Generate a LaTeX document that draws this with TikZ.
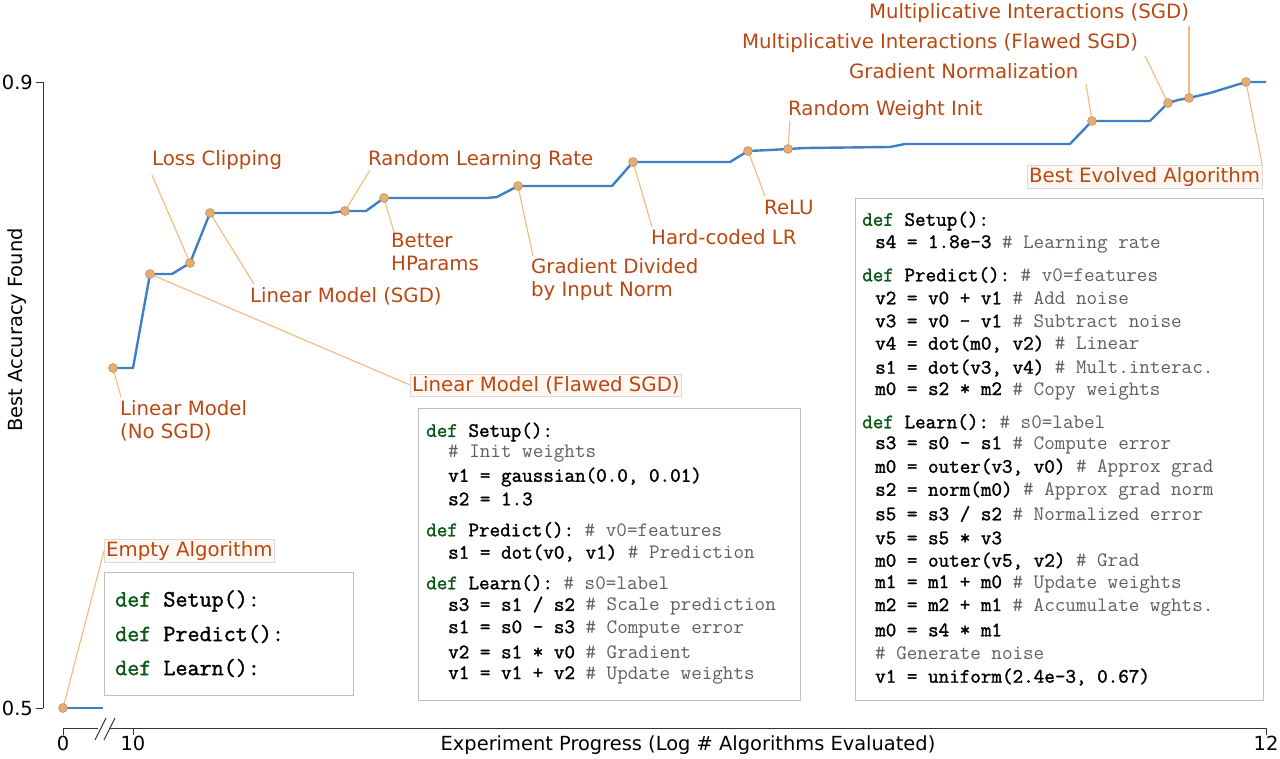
\documentclass[tikz,border=0pt]{standalone}
\usepackage{fontspec}
\setsansfont{DejaVu Sans}
\setmonofont[AutoFakeBold=1.5]{Latin Modern Mono}
\definecolor{lab}{RGB}{185,72,18}
\definecolor{lead}{RGB}{245,185,120}
\definecolor{mk}{RGB}{232,172,112}
\definecolor{mkb}{RGB}{170,140,110}
\definecolor{curve}{RGB}{62,128,196}
\definecolor{kw}{RGB}{10,90,20}
\definecolor{cmt}{RGB}{95,95,95}
\definecolor{lbox}{RGB}{255,247,242}
\newcommand{\kd}{\textcolor{kw}{def}}
\newcommand{\cm}[1]{\textcolor{cmt}{\mdseries #1}}
\tikzset{
 lbl/.style={text=lab,font=\sffamily\fontsize{19.8}{23}\selectfont,inner sep=2pt,align=left},
 blbl/.style={lbl,draw=black!15,fill=lbox},
 ldr/.style={draw=lead,line width=1.1pt},
 dotmk/.style={circle,fill=mk,draw=mkb,line width=0.5pt,minimum size=9pt,inner sep=0pt},
 cbox/.style={draw=black!25,line width=1pt,fill=white},
 cl/.style={anchor=west,inner sep=0pt,font=\ttfamily\bfseries\fontsize{20.6}{22}\selectfont},
 cl1/.style={anchor=west,inner sep=0pt,font=\ttfamily\bfseries\fontsize{23.5}{25}\selectfont},
 axl/.style={font=\sffamily\fontsize{19.5}{22}\selectfont,inner sep=1pt}
}
\begin{document}
\begin{tikzpicture}[x=1bp,y=-1bp]
\useasboundingbox (0,0) rectangle (1280,759);
% axes
\draw[black!80,line width=1pt] (43,82) -- (43,708);
\draw[black!80,line width=1pt] (43,82) -- (36,82);
\draw[black!80,line width=1pt] (43,708) -- (36,708);
\node[axl,anchor=east] (t09) at (34,82) {0.9};
\node[axl,anchor=east] (t05) at (34,708) {0.5};
\node[axl,rotate=90] (ylab) at (17,330) {Best Accuracy Found};
\draw[black!80,line width=1pt] (63,728) -- (98,728) (110,728) -- (1266,728);
\draw[black!80,line width=1pt] (63,728) -- (63,735) (133,728) -- (133,735) (1266,728) -- (1266,735);
\draw[black!80,line width=1pt] (95,740) -- (106,718) (104,740) -- (115,718);
\node[axl,anchor=north] (x0) at (63,735) {0};
\node[axl,anchor=north] (x10) at (133,735) {10};
\node[axl,anchor=north] (x12) at (1266,735) {12};
\node[axl,anchor=north] (xlab) at (688,735) {Experiment Progress (Log \# Algorithms Evaluated)};
% curve
\draw[curve,line width=2.4pt,line join=round] (63,708) -- (103,708);
\draw[curve,line width=2.4pt,line join=round] (113,368) -- (133,368) -- (150,274) -- (172,274) -- (190,263) -- (210,213) -- (330,213) -- (345,211) -- (366,211) -- (384,198) -- (487,198) -- (497,197) -- (518,186) -- (612,186) -- (633,162) -- (730,162) -- (748,151) -- (770,150) -- (788,149) -- (805,148) -- (890,147) -- (905,144) -- (1070,144) -- (1092,121) -- (1150,121) -- (1168,103) -- (1178,100) -- (1189,98) -- (1210,93) -- (1246,82) -- (1266,82);
% labels
\node[blbl,anchor=west] (lEmpty) at (104,551) {Empty Algorithm};
\node[lbl,anchor=north west] (lNoSGD) at (118,398) {Linear Model\\(No SGD)};
\node[blbl,anchor=west] (lFlawed) at (410,385) {Linear Model (Flawed SGD)};
\node[lbl,anchor=west] (lLoss) at (150,160) {Loss Clipping};
\node[lbl,anchor=west] (lSGD) at (248,296) {Linear Model (SGD)};
\node[lbl,anchor=west] (lRLR) at (366,160) {Random Learning Rate};
\node[lbl,anchor=north west] (lBetter) at (389,231) {Better\\HParams};
\node[lbl,anchor=north west] (lGrad) at (529,256) {Gradient Divided\\by Input Norm};
\node[lbl,anchor=west] (lHard) at (649,237) {Hard-coded LR};
\node[lbl,anchor=west] (lRelu) at (762,207) {ReLU};
\node[lbl,anchor=west] (lRWI) at (786,110) {Random Weight Init};
\node[lbl,anchor=west] (lGN) at (847,71) {Gradient Normalization};
\node[lbl,anchor=west] (lMIF) at (740,43) {Multiplicative Interactions (Flawed SGD)};
\node[lbl,anchor=west] (lMI) at (867,13) {Multiplicative Interactions (SGD)};
\node[blbl,anchor=west] (lBest) at (1027,177) {Best Evolved Algorithm};
% markers
\coordinate (m0) at (63,708);
\coordinate (m1) at (113,368);
\coordinate (m2) at (150,274);
\coordinate (m3) at (190,263);
\coordinate (m4) at (210,213);
\coordinate (m5) at (345,211);
\coordinate (m6) at (384,198);
\coordinate (m7) at (518,186);
\coordinate (m8) at (633,162);
\coordinate (m9) at (748,151);
\coordinate (m10) at (788,149);
\coordinate (m11) at (1092,121);
\coordinate (m12) at (1168,103);
\coordinate (m13) at (1189,98);
\coordinate (m14) at (1246,82);
% leaders
\draw[ldr] (m0) -- (lEmpty.west);
\draw[ldr] (m1) -- (121,397);
\draw[ldr] (m2) -- (lFlawed.west);
\draw[ldr] (m3) -- (152,175);
\draw[ldr] (m4) -- (254,284);
\draw[ldr] (m5) -- (370,170);
\draw[ldr] (m6) -- (394,232);
\draw[ldr] (m7) -- (533,256);
\draw[ldr] (m8) -- (652,227);
\draw[ldr] (m9) -- (765,196);
\draw[ldr] (m10) -- (790,121);
\draw[ldr] (m11) -- (1086,84);
\draw[ldr] (m12) -- (1145,56);
\draw[ldr] (m13) -- (1189,26);
\draw[ldr] (m14) -- (lBest.north east);
\node[dotmk] (d0) at (m0) {};
\node[dotmk] (d1) at (m1) {};
\node[dotmk] (d2) at (m2) {};
\node[dotmk] (d3) at (m3) {};
\node[dotmk] (d4) at (m4) {};
\node[dotmk] (d5) at (m5) {};
\node[dotmk] (d6) at (m6) {};
\node[dotmk] (d7) at (m7) {};
\node[dotmk] (d8) at (m8) {};
\node[dotmk] (d9) at (m9) {};
\node[dotmk] (d10) at (m10) {};
\node[dotmk] (d11) at (m11) {};
\node[dotmk] (d12) at (m12) {};
\node[dotmk] (d13) at (m13) {};
\node[dotmk] (d14) at (m14) {};
% code box 1
\draw[cbox] (104,572) rectangle (353,695);
\node[cl1] (a1) at (115,601) {\kd{} Setup():};
\node[cl1] (a2) at (115,634) {\kd{} Predict():};
\node[cl1] (a3) at (115,668) {\kd{} Learn():};
% code box 2
\draw[cbox] (418,408) rectangle (800,700);
\node[cl] (b1) at (426,432) {\kd{} Setup():};
\node[cl] (b2) at (448,454) {\cm{\# Init weights}};
\node[cl] (b3) at (448,477) {v1 = gaussian(0.0, 0.01)};
\node[cl] (b4) at (448,499) {s2 = 1.3};
\node[cl] (b5) at (426,530) {\kd{} Predict(): \cm{\# v0=features}};
\node[cl] (b6) at (448,553) {s1 = dot(v0, v1) \cm{\# Prediction}};
\node[cl] (b7) at (426,583) {\kd{} Learn(): \cm{\# s0=label}};
\node[cl] (b8) at (448,606) {s3 = s1 / s2 \cm{\# Scale prediction}};
\node[cl] (b9) at (448,629) {s1 = s0 - s3 \cm{\# Compute error}};
\node[cl] (b10) at (448,652) {v2 = s1 * v0 \cm{\# Gradient}};
\node[cl] (b11) at (448,675) {v1 = v1 + v2 \cm{\# Update weights}};
% code box 3
\draw[cbox] (855,198) rectangle (1263,700);
\node[cl] (c1) at (862,221) {\kd{} Setup():};
\node[cl] (c2) at (875,244) {s4 = 1.8e-3 \cm{\# Learning rate}};
\node[cl] (c3) at (862,275) {\kd{} Predict(): \cm{\# v0=features}};
\node[cl] (c4) at (875,298) {v2 = v0 + v1 \cm{\# Add noise}};
\node[cl] (c5) at (875,321) {v3 = v0 - v1 \cm{\# Subtract noise}};
\node[cl] (c6) at (875,344) {v4 = dot(m0, v2) \cm{\# Linear}};
\node[cl] (c7) at (875,368) {s1 = dot(v3, v4) \cm{\# Mult.interac.}};
\node[cl] (c8) at (875,391) {m0 = s2 * m2 \cm{\# Copy weights}};
\node[cl] (c9) at (862,422) {\kd{} Learn(): \cm{\# s0=label}};
\node[cl] (c10) at (875,445) {s3 = s0 - s1 \cm{\# Compute error}};
\node[cl] (c11) at (875,468) {m0 = outer(v3, v0) \cm{\# Approx grad}};
\node[cl] (c12) at (875,491) {s2 = norm(m0) \cm{\# Approx grad norm}};
\node[cl] (c13) at (875,514) {s5 = s3 / s2 \cm{\# Normalized error}};
\node[cl] (c14) at (875,538) {v5 = s5 * v3};
\node[cl] (c15) at (875,561) {m0 = outer(v5, v2) \cm{\# Grad}};
\node[cl] (c16) at (875,584) {m1 = m1 + m0 \cm{\# Update weights}};
\node[cl] (c17) at (875,607) {m2 = m2 + m1 \cm{\# Accumulate wghts.}};
\node[cl] (c18) at (875,630) {m0 = s4 * m1};
\node[cl] (c19) at (875,653) {\cm{\# Generate noise}};
\node[cl] (c20) at (875,677) {v1 = uniform(2.4e-3, 0.67)};
\end{tikzpicture}
\end{document}
